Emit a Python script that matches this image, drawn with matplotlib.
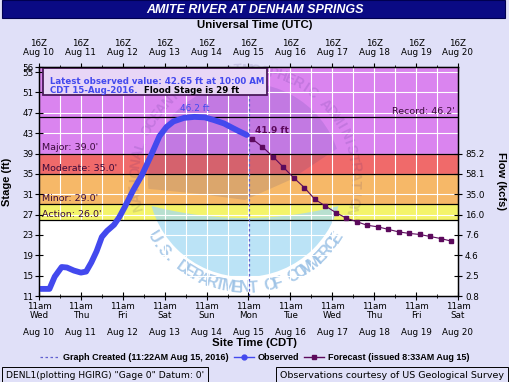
import matplotlib
matplotlib.use("Agg")
import matplotlib.pyplot as plt
from matplotlib.lines import Line2D
from matplotlib.patches import Rectangle, Circle, Polygon
import numpy as np
import pandas as pd

# observed stage (ft), site time CDT
obs_times = ["08-10 11:00", "08-10 17:00", "08-10 20:00", "08-11 00:00", "08-11 03:00",
             "08-11 07:00", "08-11 11:00", "08-11 14:00", "08-11 17:00", "08-11 20:00",
             "08-11 23:00", "08-12 02:00", "08-12 06:00", "08-12 09:00", "08-12 12:00",
             "08-12 17:00", "08-12 22:00", "08-13 03:00", "08-13 08:00", "08-13 12:00",
             "08-13 16:00", "08-13 22:00", "08-14 04:00", "08-14 10:00", "08-14 15:00",
             "08-14 21:00", "08-15 02:00", "08-15 06:00", "08-15 10:00"]
obs_stage = [12.4, 12.4, 14.8, 16.7, 16.6,
             16.0, 15.6, 15.8, 17.6, 19.8,
             22.6, 23.8, 25.0, 26.5, 28.4,
             31.8, 34.8, 38.5, 42.4, 44.2,
             45.3, 46.0, 46.2, 46.1, 45.6,
             44.9, 44.0, 43.3, 42.65]

# forecast stage (ft), every 6 h from 1pm CDT Aug 15
fcst_start = "2016-08-15 13:00"
fcst_stage = [41.9, 40.3, 38.4, 36.3, 34.2, 32.3, 30.0, 28.7, 27.4, 26.3,
              25.6, 24.9, 24.6, 24.1, 23.6, 23.3, 23.1, 22.7, 22.3, 21.8]

graph_created = "2016-08-15 11:22"

# flood categories (ft)
action, minor, moderate, major, record = 26.0, 29.0, 35.0, 39.0, 46.2

stage_ticks = [11, 15, 19, 23, 27, 31, 35, 39, 43, 47, 51, 55, 56]
flow_ticks = [11, 15, 19, 23, 27, 31, 35, 39]
flow_labels = ["0.8", "2.5", "4.6", "7.6", "16.0", "35.0", "58.1", "85.2"]

day_names = ["Wed", "Thu", "Fri", "Sat", "Sun", "Mon", "Tue", "Wed", "Thu", "Fri", "Sat"]

obs_t = pd.to_datetime(["2016-" + s for s in obs_times])
fcst_t = pd.date_range(fcst_start, periods=len(fcst_stage), freq="6h")
days = pd.date_range("2016-08-10 11:00", "2016-08-20 11:00", freq="D")
halves = days[:-1] + pd.Timedelta(hours=12)
day_lbl = [d.strftime("Aug %d").replace("Aug 0", "Aug ") for d in days]

bg = "#E0E0F8"
obs_col = "#4349EE"
fc_col = "#5C0A5C"
lab_col = "#3A0A3A"
tfs = 6.3

plt.rcParams["font.family"] = "DejaVu Sans"

fig = plt.figure(figsize=(5.09, 3.82), dpi=100, facecolor=bg)
ax = fig.add_axes([0.0766, 0.2251, 0.8232, 0.5995])

ax.set_facecolor("white")
ax.axhspan(action, minor, color="#F4F46A", lw=0)
ax.axhspan(minor, moderate, color="#F6B868", lw=0)
ax.axhspan(moderate, major, color="#F06A6A", lw=0)
ax.axhspan(major, 56, color="#DA84EF", lw=0)

for lev in [action, minor, moderate, major, record]:
    ax.axhline(lev, color="black", lw=0.9, zorder=1.6)

ax.set_axisbelow("line")
ax.grid(True, which="both", axis="x", color="white", lw=0.8)
ax.grid(True, which="major", axis="y", color="white", lw=0.8)

# faded NOAA seal behind the data (pixel geometry, drawn in inches)
tr = fig.dpi_scale_trans
def pin(x, y):
    return (x / 100.0, (382 - y) / 100.0)

cx, cy, r = 245, 180, 97
disk = Circle(pin(cx, cy), r / 100.0, transform=tr, fc="none", ec="none")
ax.add_patch(disk)
xs = np.linspace(cx - r - 5, cx + r + 5, 60)
low_edge = [pin(x, 218 - 0.00138 * (x - cx) ** 2) for x in xs]
lower = Polygon(low_edge + [pin(cx + r + 5, 300), pin(cx - r - 5, 300)], closed=True,
                transform=tr, fc="#A4DAF3", ec="none", alpha=0.75, zorder=1.2)
lower.set_clip_path(disk)
ax.add_patch(lower)
upper_edge = [pin(140, 188), pin(200, 194), pin(245, 200), pin(290, 180), pin(350, 140)]
upper = Polygon(upper_edge + [pin(350, 70), pin(140, 70)], closed=True, transform=tr,
                fc="#1A2A8A", ec="none", alpha=0.12, zorder=1.2)
upper.set_clip_path(disk)
ax.add_patch(upper)

def arc_text(s, a0, a1, rad, color, alpha, size, bottom):
    angs = np.linspace(a0, a1, len(s))
    for ch, a in zip(s, angs):
        x = cx + rad * np.cos(np.radians(a))
        y = cy - rad * np.sin(np.radians(a))
        rot = a + 90 if bottom else a - 90
        ax.text(*pin(x, y), ch, transform=tr, rotation=rot, rotation_mode="anchor",
                ha="center", va="center", fontsize=size, fontweight="bold",
                family="Liberation Sans", color=color, alpha=alpha, zorder=1.3)

arc_text("U.S. DEPARTMENT OF COMMERCE", 212, 328, 108, "#9CC2E6", 0.85, 11.5, True)
arc_text("NATIONAL OCEANIC AND ATMOSPHERIC ADMINISTRATION", 194, -16, 110,
         "#2A1A70", 0.13, 10, False)

ax.axvline(pd.Timestamp(graph_created), color="#6060D0", lw=0.9, ls=(0, (2, 2)), zorder=1.8)

ax.plot(obs_t, obs_stage, color=obs_col, lw=4.2, solid_capstyle="round", zorder=3)
ax.plot(fcst_t, fcst_stage, color=fc_col, lw=0.8, marker="s", ms=3, zorder=3)

ax.set_xlim(days[0], days[-1])
ax.set_ylim(11, 56)

# category labels
kw = dict(fontsize=6.8, color=lab_col, va="bottom", transform=ax.get_yaxis_transform())
ax.text(0.007, major + 0.2, "Major: 39.0'", **kw)
ax.text(0.007, moderate + 0.2, "Moderate: 35.0'", **kw)
ax.text(0.007, minor + 0.2, "Minor: 29.0'", **kw)
ax.text(0.007, action + 0.2, "Action: 26.0'", **kw)
kw["ha"] = "right"
ax.text(0.992, record + 0.2, "Record: 46.2'", **kw)

ipk = obs_stage.index(max(obs_stage))
ax.text(obs_t[ipk], max(obs_stage) + 0.8, "%.1f ft" % max(obs_stage), color=obs_col,
        fontsize=6.5, ha="center", va="bottom", zorder=4)
ax.text(fcst_t[0] + pd.Timedelta(hours=2), fcst_stage[0] + 0.8, "%.1f ft" % fcst_stage[0],
        color=fc_col, fontsize=6.5, fontweight="bold", ha="left", va="bottom", zorder=4)

# info box
ax.add_patch(Rectangle((0.0095, 0.878), 0.535, 0.118, transform=ax.transAxes,
                       fc="#E8D6F6", ec="#4A1A5A", lw=1.3, zorder=4))
ax.text(0.026, 0.937, "Latest observed value: 42.65 ft at 10:00 AM", transform=ax.transAxes,
        fontsize=6.2, fontweight="bold", color=obs_col, va="center", ha="left", zorder=5)
t2 = ax.text(0.026, 0.899, "CDT 15-Aug-2016.", transform=ax.transAxes,
             fontsize=6.2, fontweight="bold", color=obs_col, va="center", ha="left", zorder=5)
ax.annotate("  Flood Stage is 29 ft", xy=(1, 0.5), xycoords=t2, fontsize=6.2,
            fontweight="bold", color="black", va="center", ha="left", zorder=5)

# axes ticks
ax.set_xticks(days)
ax.set_xticks(halves, minor=True)
ax.set_xticklabels(["11am\n%s" % d for d in day_names], fontsize=tfs, linespacing=1.0)
for d, lbl in zip(days, day_lbl):
    ax.text(d, -0.160, lbl, fontsize=tfs, ha="center", va="center",
            transform=ax.get_xaxis_transform())
ax.tick_params(axis="x", which="major", direction="inout", length=6, width=0.8, pad=1)
ax.tick_params(axis="x", which="minor", direction="inout", length=3, width=0.6)

ax.set_yticks(stage_ticks)
ax.set_yticklabels([str(v) for v in stage_ticks], fontsize=tfs)
ax.tick_params(axis="y", direction="inout", length=6, width=0.8, pad=1)

top = ax.secondary_xaxis("top")
top.set_xticks(days)
top.set_xticks(halves, minor=True)
top.set_xticklabels(["16Z\n" + lbl for lbl in day_lbl], fontsize=tfs, linespacing=1.0)
top.tick_params(axis="x", which="major", direction="inout", length=6, width=0.8, pad=4.5)
top.tick_params(axis="x", which="minor", direction="inout", length=3, width=0.6)

ax2 = ax.twinx()
ax2.set_ylim(11, 56)
ax2.set_yticks(flow_ticks)
ax2.set_yticklabels(flow_labels, fontsize=tfs)
ax2.tick_params(axis="y", direction="inout", length=6, width=0.8, pad=2)

for a in (ax, ax2):
    for s in a.spines.values():
        s.set_linewidth(0.9)

fig.text(0.014, 0.525, "Stage (ft)", rotation=90, fontsize=8, fontweight="bold",
         family="Liberation Sans", ha="center", va="center")
fig.text(0.985, 0.525, "Flow (kcfs)", rotation=270, fontsize=8, fontweight="bold",
         family="Liberation Sans", ha="center", va="center")

# title bar
fig.patches.append(Rectangle((0.004, 0.952), 0.988, 0.048, transform=fig.transFigure,
                             fc="#0A0A84", ec="#000050", lw=0.8))
fig.text(0.5, 0.975, "AMITE RIVER AT DENHAM SPRINGS", color="white", fontsize=9,
         fontweight="bold", style="italic", family="Liberation Sans", ha="center", va="center")
fig.text(0.5, 0.934, "Universal Time (UTC)", fontsize=8.2, fontweight="bold",
         family="Liberation Sans", ha="center", va="center")
fig.text(0.5, 0.102, "Site Time (CDT)", fontsize=8.2, fontweight="bold",
         family="Liberation Sans", ha="center", va="center")

handles = [Line2D([], [], color="#6060D0", lw=0.9, ls=(0, (2, 2))),
           Line2D([], [], color=obs_col, lw=1, marker="o", ms=3.5),
           Line2D([], [], color=fc_col, lw=1, marker="s", ms=3)]
labels = ["Graph Created (11:22AM Aug 15, 2016)", "Observed", "Forecast (issued 8:33AM Aug 15)"]
fig.legend(handles, labels, loc="center", bbox_to_anchor=(0.5, 0.065), ncol=3, frameon=False,
           prop=dict(family="Liberation Sans", weight="bold", size=6.5),
           handlelength=2.2, handletextpad=0.4, columnspacing=0.6)

fig.text(0.012, 0.016, "DENL1(plotting HGIRG) \"Gage 0\" Datum: 0'", fontsize=6.6,
         ha="left", va="center",
         bbox=dict(boxstyle="square,pad=0.45", fc=bg, ec="black", lw=0.7))
fig.text(0.990, 0.016, "Observations courtesy of US Geological Survey", fontsize=6.8,
         ha="right", va="center",
         bbox=dict(boxstyle="square,pad=0.45", fc=bg, ec="black", lw=0.7))

fig.savefig("out.png", dpi=100, facecolor=bg)
